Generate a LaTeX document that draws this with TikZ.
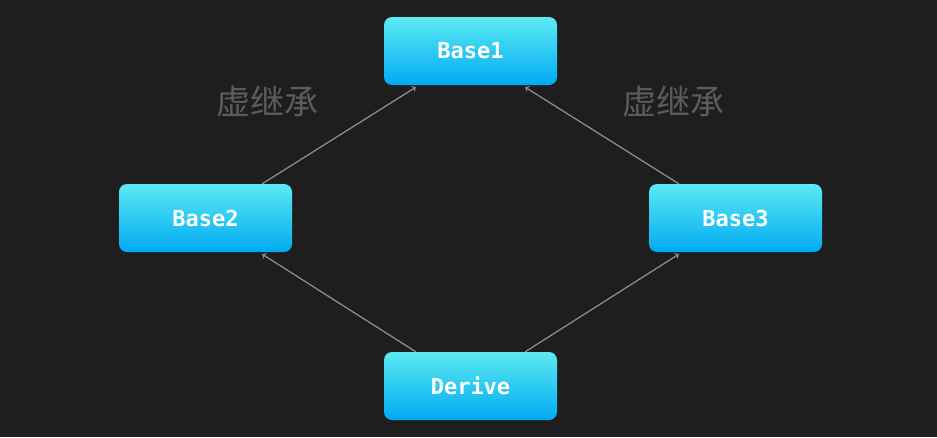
\documentclass[tikz,border=0pt]{standalone}
\usepackage{fontspec}
\setmonofont{DejaVu Sans Mono}
\newfontfamily\cjkfont{Noto Sans CJK SC}
\usetikzlibrary{positioning}
\definecolor{bgdark}{HTML}{1E1E1E}
\definecolor{boxtop}{HTML}{5CEAF2}
\definecolor{boxbot}{HTML}{00AAF2}
\definecolor{linegray}{HTML}{8A8A8A}
\definecolor{labelgray}{HTML}{5C5C5C}
\tikzset{
  classbox/.style={rounded corners=8pt, minimum width=173pt, minimum height=68pt,
    top color=boxtop, bottom color=boxbot, draw=none, text=white,
    font=\fontsize{22}{24}\selectfont\ttfamily\bfseries},
  inherit/.style={->, draw=linegray, line width=1.3pt},
  vlabel/.style={text=labelgray, font=\fontsize{34}{36}\selectfont\cjkfont}
}
\begin{document}
\begin{tikzpicture}[x=1pt, y=1pt]
\fill[bgdark] (0,0) rectangle (937,-437);
\useasboundingbox (0,0) rectangle (937,-437);

\node[classbox] (base1) at (470.5, -51) {Base1};
\node[classbox] (base2) at (205.5, -218) {Base2};
\node[classbox] (base3) at (735.5, -218) {Base3};
\node[classbox] (derive) at (470.5, -386) {Derive};

\node[vlabel] (label1) at (267, -102) {虚继承};
\node[vlabel] (label2) at (673, -102) {虚继承};

% virtual inheritance
\draw[inherit] ([xshift=-30pt]base2.north east) -- ([xshift=32pt, yshift=-2pt]base1.south west);
\draw[inherit] ([xshift=30pt]base3.north west) -- ([xshift=-32pt, yshift=-2pt]base1.south east);
\draw[inherit] ([xshift=32pt]derive.north west) -- ([xshift=-30pt, yshift=-2pt]base2.south east);
\draw[inherit] ([xshift=-32pt]derive.north east) -- ([xshift=30pt, yshift=-2pt]base3.south west);
\end{tikzpicture}
\end{document}
